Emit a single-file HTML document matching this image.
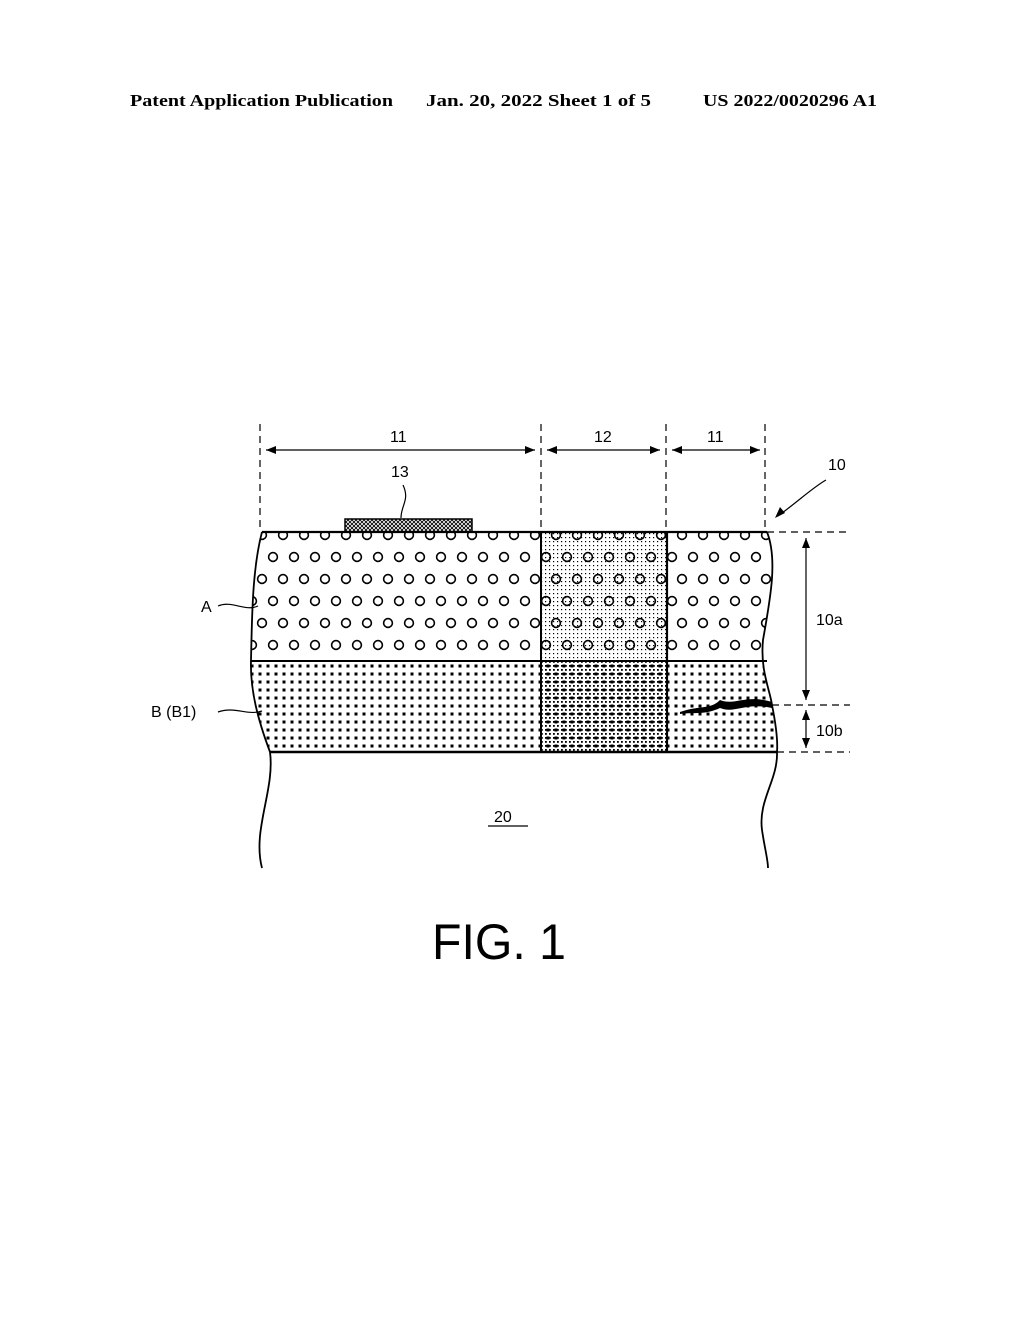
<!DOCTYPE html>
<html><head><style>
body{margin:0;background:#fff;}
svg{display:block}
</style></head><body>
<svg width="1020" height="1320" viewBox="0 0 1020 1320" xmlns="http://www.w3.org/2000/svg">
<defs>
<pattern id="circ" x="0" y="524" width="42" height="44" patternUnits="userSpaceOnUse">
 <circle cx="10" cy="11" r="4.4" fill="none" stroke="#000" stroke-width="1.6"/>
 <circle cx="31" cy="11" r="4.4" fill="none" stroke="#000" stroke-width="1.6"/>
 <circle cx="21" cy="33" r="4.4" fill="none" stroke="#000" stroke-width="1.6"/>
 <circle cx="0" cy="33" r="4.4" fill="none" stroke="#000" stroke-width="1.6"/>
 <circle cx="42" cy="33" r="4.4" fill="none" stroke="#000" stroke-width="1.6"/>
</pattern>
<pattern id="dots" x="0" y="662" width="8" height="8" patternUnits="userSpaceOnUse">
 <rect x="2.5" y="2.5" width="3" height="3" fill="#000"/>
</pattern>
<pattern id="fine" x="0" y="0" width="4" height="4" patternUnits="userSpaceOnUse">
 <rect x="1" y="1" width="1.2" height="1.2" fill="#000"/>
</pattern>
<pattern id="fine2" x="0" y="0" width="4" height="4" patternUnits="userSpaceOnUse">
 <rect x="1" y="1" width="1.8" height="1.8" fill="#000"/>
</pattern>
<pattern id="hatch" width="4" height="4" patternUnits="userSpaceOnUse">
 <path d="M0 0L4 4M4 0L0 4" stroke="#000" stroke-width="0.9"/>
</pattern>
<clipPath id="body">
 <path d="M262 532 L767 532 C778 560 770 600 763 640 C760 670 770 690 772 705 C775 720 778 740 777 752 L270 752 C258 720 250 690 251 660 C252 620 252 570 262 532 Z"/>
</clipPath>
</defs>
<g font-family="Liberation Serif, serif" font-weight="bold" font-size="17" fill="#000">
<text x="130" y="106" textLength="263" lengthAdjust="spacingAndGlyphs">Patent Application Publication</text>
<text x="426" y="106" textLength="225" lengthAdjust="spacingAndGlyphs">Jan. 20, 2022  Sheet 1 of 5</text>
<text x="703" y="106" textLength="174" lengthAdjust="spacingAndGlyphs">US 2022/0020296 A1</text>
</g>
<g clip-path="url(#body)">
 <rect x="240" y="532" width="560" height="130" fill="url(#circ)"/>
 <rect x="240" y="662" width="560" height="90" fill="url(#dots)"/>
 <rect x="541" y="532" width="126" height="220" fill="#fff"/>
 <rect x="541" y="532" width="126" height="130" fill="url(#circ)"/>
 <rect x="541" y="532" width="126" height="130" fill="url(#fine)"/>
 <rect x="541" y="662" width="126" height="90" fill="url(#fine2)"/>
 <rect x="541" y="662" width="126" height="90" fill="url(#dots)"/>
</g>
<g stroke="#000" fill="none">
 <path d="M262 532 C252 570 252 620 251 660 C250 690 258 720 270 752 C275 790 252 830 262 868" stroke-width="1.8"/>
 <path d="M767 532 C778 560 770 600 763 640 C760 670 770 690 772 705 C775 720 778 740 777 752 C778 780 758 800 762 830 C765 850 768 860 768 868" stroke-width="1.8"/>
 <line x1="262" y1="532" x2="767" y2="532" stroke-width="2.2"/>
 <line x1="251" y1="661" x2="767" y2="661" stroke-width="2"/>
 <line x1="270" y1="752" x2="777" y2="752" stroke-width="2.5"/>
 <line x1="541" y1="532" x2="541" y2="752" stroke-width="2"/>
 <line x1="667" y1="532" x2="667" y2="752" stroke-width="2.2"/>
 <g stroke-dasharray="7 5" stroke-width="1.2">
  <line x1="260" y1="424" x2="260" y2="532"/>
  <line x1="541" y1="424" x2="541" y2="532"/>
  <line x1="666" y1="424" x2="666" y2="532"/>
  <line x1="765" y1="424" x2="765" y2="532"/>
  <line x1="767" y1="532" x2="850" y2="532"/>
  <line x1="772" y1="705" x2="850" y2="705"/>
  <line x1="777" y1="752" x2="850" y2="752"/>
 </g>
 <g stroke-width="1.2">
  <line x1="266" y1="450" x2="535" y2="450"/>
  <line x1="547" y1="450" x2="660" y2="450"/>
  <line x1="672" y1="450" x2="760" y2="450"/>
  <line x1="806" y1="538" x2="806" y2="700"/>
  <line x1="806" y1="710" x2="806" y2="748"/>
  <path d="M401 518 C401 505 410 500 403 485"/>
  <path d="M218 606 C232 600 245 612 258 606"/>
  <path d="M218 712 C235 706 248 716 262 711"/>
  <path d="M778 516 C800 500 812 488 826 480"/>
  <line x1="488" y1="826" x2="528" y2="826"/>
 </g>
</g>
<g fill="#000">
 <path d="M266 450 l10 -4 v8z M535 450 l-10 -4 v8z M547 450 l10 -4 v8z M660 450 l-10 -4 v8z M672 450 l10 -4 v8z M760 450 l-10 -4 v8z"/>
 <path d="M806 538 l-4 10 h8z M806 700 l-4 -10 h8z M806 710 l-4 10 h8z M806 748 l-4 -10 h8z"/>
 <path d="M775 518 l5 -11 l5 6z"/>
 <path d="M680 712 C700 705 710 710 720 700 C735 706 745 694 772 702 L772 708 C745 702 735 714 720 708 C705 715 695 712 680 714Z"/>
</g>
<rect x="345" y="519" width="127" height="13" fill="url(#hatch)" stroke="#000" stroke-width="1.5"/>
<g font-family="Liberation Sans, sans-serif" font-size="16" fill="#000">
 <text x="390" y="442">11</text>
 <text x="594" y="442">12</text>
 <text x="707" y="442">11</text>
 <text x="391" y="477">13</text>
 <text x="828" y="470">10</text>
 <text x="816" y="625">10a</text>
 <text x="816" y="736">10b</text>
 <text x="201" y="612">A</text>
 <text x="151" y="717">B (B1)</text>
 <text x="494" y="822">20</text>
</g>
<text x="432" y="959" font-family="Liberation Sans, sans-serif" font-size="50" fill="#000" textLength="134" lengthAdjust="spacingAndGlyphs">FIG. 1</text>
</svg>
</body></html>
